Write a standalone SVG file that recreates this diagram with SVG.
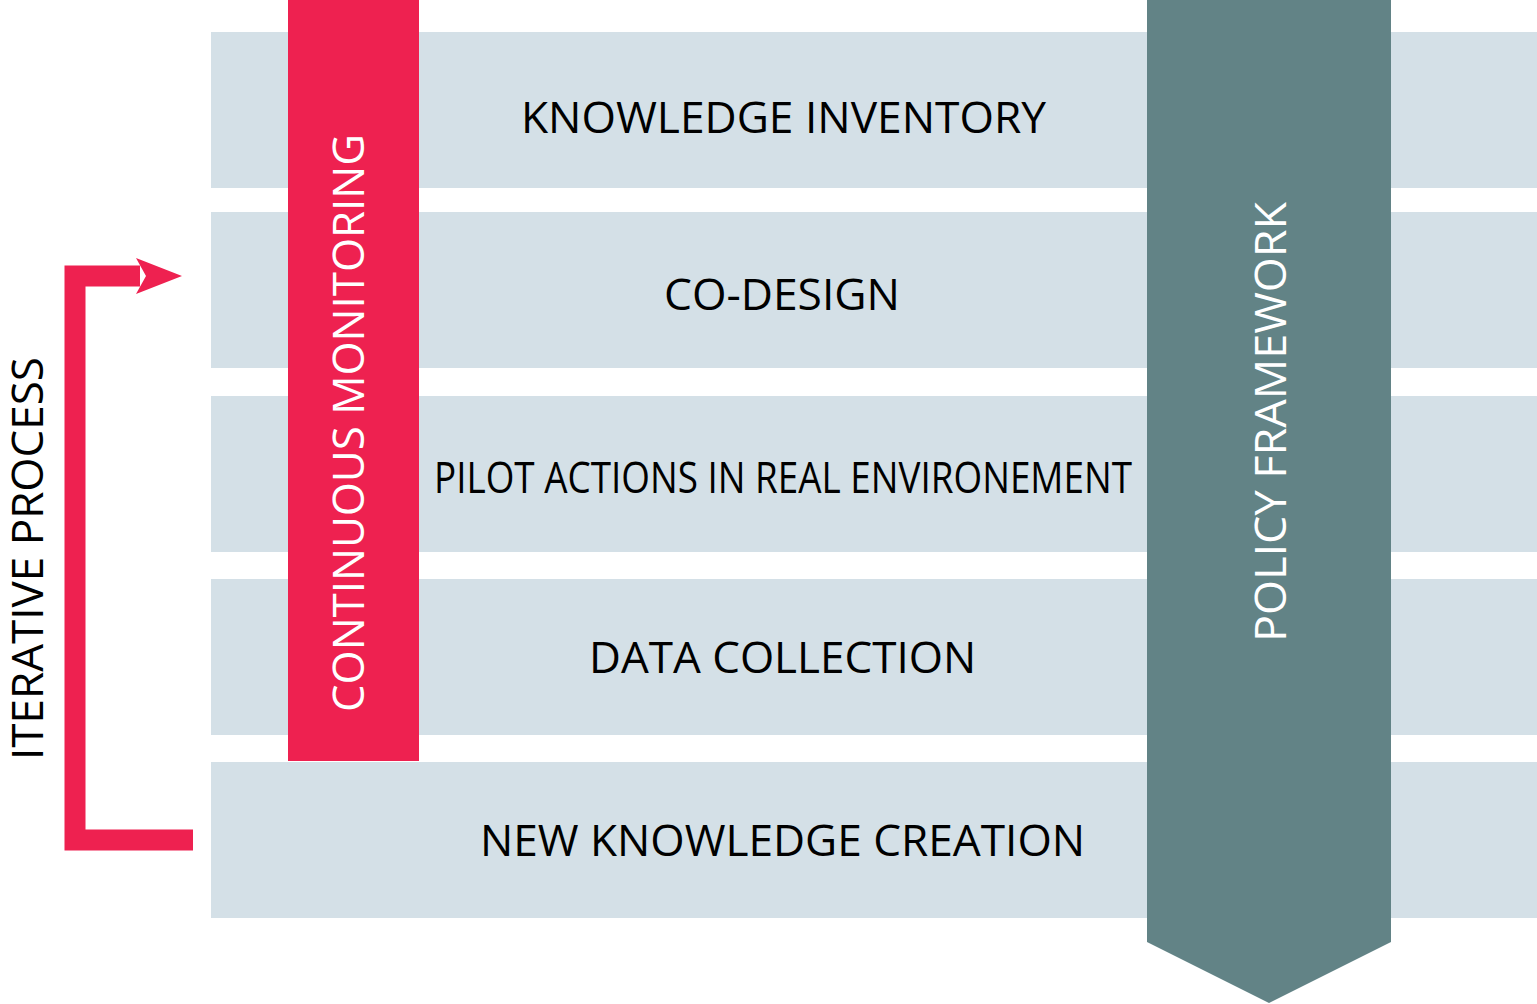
<svg xmlns="http://www.w3.org/2000/svg" width="1537" height="1004" viewBox="0 0 1537 1004">
<style>
.band{fill:#D4E0E7}
.t{font-family:"Open Sans","Liberation Sans",sans-serif;font-size:44px;fill:#000}
.w{font-family:"Open Sans","Liberation Sans",sans-serif;font-size:44px;fill:#fff}
</style>
<rect width="1537" height="1004" fill="#fff"/>
<g id="bands">
<rect class="band" x="211" y="32" width="1326" height="156"/>
<rect class="band" x="211" y="212" width="1326" height="156"/>
<rect class="band" x="211" y="396" width="1326" height="156"/>
<rect class="band" x="211" y="579" width="1326" height="156"/>
<rect class="band" x="211" y="762" width="1326" height="156"/>
</g>
<g id="monitoring">
<rect x="288" y="0" width="131" height="761" fill="#EE2150"/>
<text class="w" transform="translate(364,712) rotate(-90)" textLength="578" lengthAdjust="spacingAndGlyphs">CONTINUOUS MONITORING</text>
</g>
<g id="policy">
<path d="M1147 0 H1391 V942 L1269 1003 L1147 942 Z" fill="#628386"/>
<text class="w" transform="translate(1286,642) rotate(-90)" textLength="440" lengthAdjust="spacingAndGlyphs">POLICY FRAMEWORK</text>
</g>
<g id="labels">
<text class="t" x="521" y="133" textLength="525" lengthAdjust="spacingAndGlyphs">KNOWLEDGE INVENTORY</text>
<text class="t" x="664" y="310" textLength="236" lengthAdjust="spacingAndGlyphs">CO-DESIGN</text>
<text class="t" x="434" y="493" font-size="38" textLength="698" lengthAdjust="spacingAndGlyphs">PILOT ACTIONS IN REAL ENVIRONEMENT</text>
<text class="t" x="589" y="673" textLength="387" lengthAdjust="spacingAndGlyphs">DATA COLLECTION</text>
<text class="t" x="480" y="856" textLength="605" lengthAdjust="spacingAndGlyphs">NEW KNOWLEDGE CREATION</text>
</g>
<g id="connectors">
<path d="M193 840 H75 V276 H140" fill="none" stroke="#EE2150" stroke-width="21"/>
<path d="M136 258 L182 276 L136 294 L146 276 Z" fill="#EE2150"/>
</g>
<g id="iterative">
<text class="t" transform="translate(43,760) rotate(-90)" textLength="403" lengthAdjust="spacingAndGlyphs">ITERATIVE PROCESS</text>
</g>
</svg>
